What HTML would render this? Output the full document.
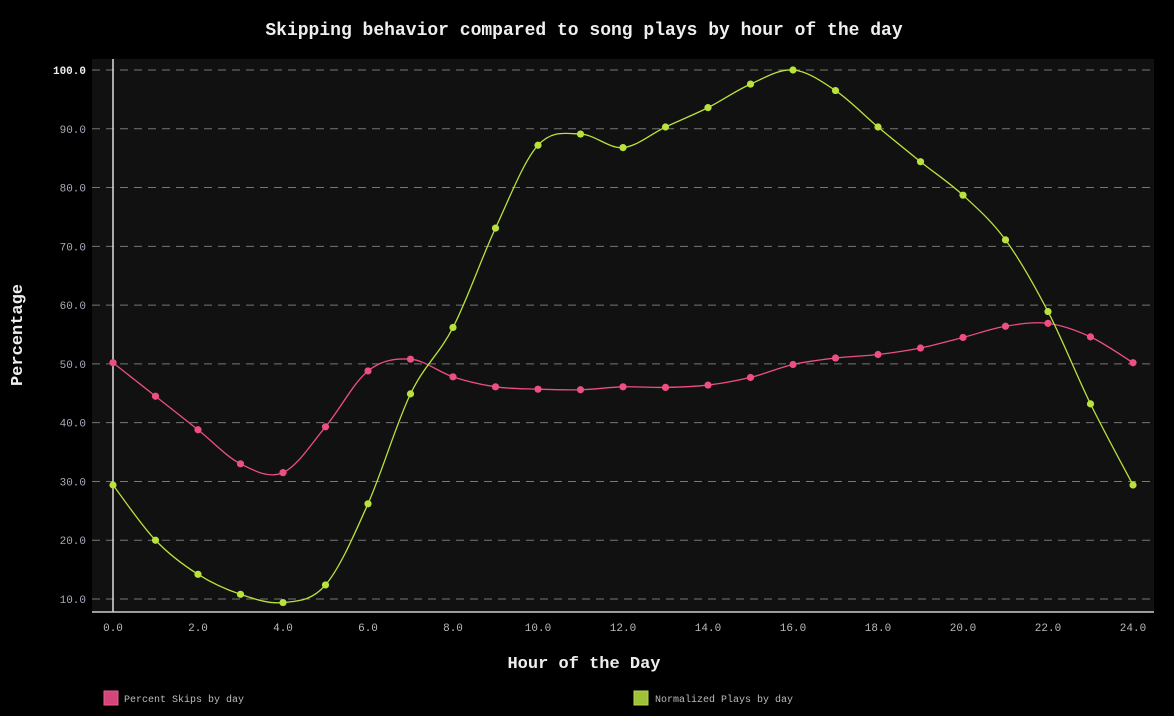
<!DOCTYPE html>
<html><head><meta charset="utf-8"><style>
html,body{margin:0;padding:0;background:#000;width:1174px;height:716px;overflow:hidden}
text{font-family:"Liberation Mono",monospace}
</style></head><body>
<svg id="s" width="1174" height="716" xmlns="http://www.w3.org/2000/svg">
<rect x="0" y="0" width="1174" height="716" fill="#000"/>
<rect x="92" y="59" width="1062" height="553" fill="#111"/>
<text x="584" y="35" fill="#eee" font-size="18" font-weight="bold" text-anchor="middle">Skipping behavior compared to song plays by hour of the day</text>
<g id="grid" stroke="#777" stroke-width="1" stroke-dasharray="8,6"></g>
<g id="ylab" font-size="11" fill="#aab" text-anchor="end"></g>
<g id="xlab" font-size="11" fill="#bbb" text-anchor="middle"></g>
<line x1="113" y1="59" x2="113" y2="612" stroke="#ddd" stroke-width="1.5"/>
<line x1="92" y1="612" x2="1154" y2="612" stroke="#ccc" stroke-width="1.5"/>
<text x="584" y="668" fill="#eee" font-size="17" font-weight="bold" text-anchor="middle">Hour of the Day</text>
<text transform="translate(22,335) rotate(-90)" fill="#eee" font-size="17" font-weight="bold" text-anchor="middle">Percentage</text>
<g id="series"></g>
<rect x="104" y="691" width="14" height="14" fill="#d6457a" stroke="#e8608f"/>
<text x="124" y="702" fill="#bbb" font-size="10">Percent Skips by day</text>
<rect x="634" y="691" width="14" height="14" fill="#9fc13a" stroke="#b5d84a"/>
<text x="655" y="702" fill="#bbb" font-size="10">Normalized Plays by day</text>
</svg>
<script>
var NS="http://www.w3.org/2000/svg";
function X(h){return 113+h*42.5}
function Y(v){return 70+(100-v)*5.878}
function el(t,a,p){var e=document.createElementNS(NS,t);for(var k in a)e.setAttribute(k,a[k]);document.getElementById(p).appendChild(e);return e}
for(var v=10;v<=100;v+=10){el('line',{x1:92,x2:1154,y1:Y(v),y2:Y(v)},'grid');var t=el('text',{x:86,y:Y(v)+4},'ylab');t.textContent=v.toFixed(1);if(v==100){t.setAttribute('fill','#eee');t.setAttribute('font-weight','bold')}}
for(var h=0;h<=24;h+=2){var t=el('text',{x:X(h),y:631},'xlab');t.textContent=h.toFixed(1)}
var pink=[50.2,44.5,38.8,33,31.5,39.3,48.8,50.8,47.8,46.1,45.7,45.6,46.1,46,46.4,47.7,49.9,51,51.6,52.7,54.5,56.4,56.9,54.6,50.2];
var green=[29.4,20,14.2,10.8,9.4,12.4,26.2,44.9,56.2,73.1,87.2,89.1,86.8,90.3,93.6,97.6,100,96.5,90.3,84.4,78.7,71.1,58.9,43.2,29.4];
function path(d){var p=d.map(function(v,i){return[X(i),Y(v)]});var s="M"+p[0][0]+","+p[0][1];
for(var i=0;i<p.length-1;i++){var p0=p[i-1]||p[i],p1=p[i],p2=p[i+1],p3=p[i+2]||p2;
var c1=[p1[0]+(p2[0]-p0[0])/6,p1[1]+(p2[1]-p0[1])/6],c2=[p2[0]-(p3[0]-p1[0])/6,p2[1]-(p3[1]-p1[1])/6];
s+=" C"+c1+" "+c2+" "+p2}return s}
function draw(d,c){el('path',{d:path(d),fill:'none',stroke:c,'stroke-width':1.3},'series');d.forEach(function(v,i){el('circle',{cx:X(i),cy:Y(v),r:3.6,fill:c},'series')})}
draw(pink,'#ec4f80');draw(green,'#b9e23d');
</script>
</body></html>
